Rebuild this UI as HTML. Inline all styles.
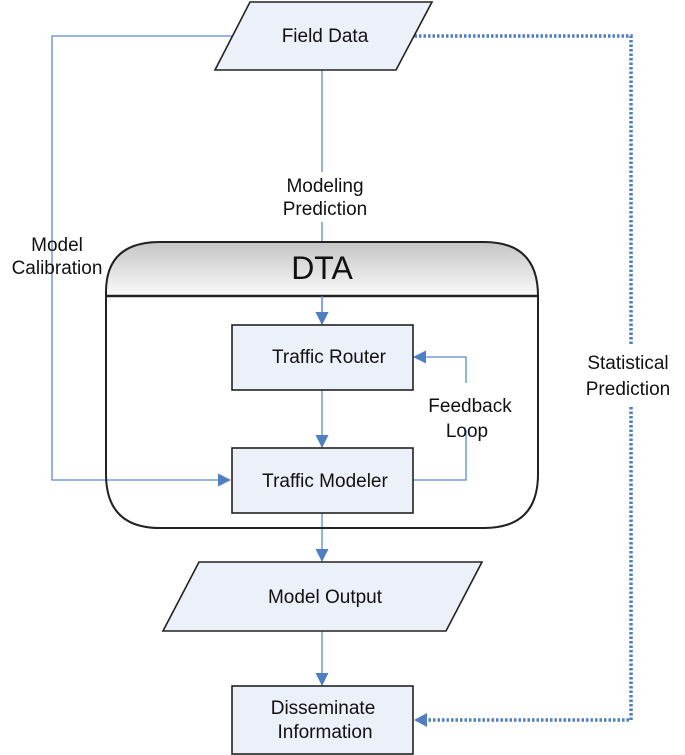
<!DOCTYPE html>
<html><head><style>body{margin:0;background:#fff}svg{display:block}text{font-family:"Liberation Sans",sans-serif;fill:#111}</style></head>
<body>
<svg width="685" height="755" viewBox="0 0 685 755">
<defs>
<linearGradient id="g" x1="0" y1="0" x2="0" y2="1"><stop offset="0" stop-color="#c4c5c4"/><stop offset="1" stop-color="#fafafa"/></linearGradient>
<marker id="a" markerWidth="13" markerHeight="13" refX="12" refY="6.5" orient="auto" markerUnits="userSpaceOnUse"><path d="M0,0 L13,6.5 L0,13 Z" fill="#4f7fc3"/></marker>
</defs>
<g stroke="#5b8bd0" stroke-width="1.3" fill="none">
<path d="M232,36 H52 V480 H230" marker-end="url(#a)"/>
<path d="M322,70 V172 M322,222 V324" marker-end="url(#a)"/>
<path d="M322,390 V447" marker-end="url(#a)"/>
<path d="M413,480 H466 V430 M466,383 V357 H414" marker-end="url(#a)"/>
<path d="M322,513 V561" marker-end="url(#a)"/>
<path d="M322,631 V685" marker-end="url(#a)"/>
</g>
<g stroke="#4f7fc3" stroke-width="3.5" stroke-dasharray="2.5 2" fill="none">
<path d="M410,36 H631 V345 M631,407 V720 H425"/>
</g>
<path d="M414,720 l13,-7 v14 z" fill="#4f7fc3"/>
<path d="M106,296 V292 Q106,242 160,242 H484 Q538,242 538,296 Z" fill="url(#g)"/>
<path d="M106,296 V474 Q106,528 160,528 H484 Q538,528 538,474 V296 M106,296 V292 Q106,242 160,242 H484 Q538,242 538,296 Z" fill="none" stroke="#222" stroke-width="2"/>
<line x1="106" y1="296" x2="538" y2="296" stroke="#222" stroke-width="2.5"/>
<path d="M322,296 V324" stroke="#5b8bd0" stroke-width="1.3" marker-end="url(#a)"/>
<text x="322" y="279" font-size="32" text-anchor="middle">DTA</text>
<g fill="#ecf0f9" stroke="#222" stroke-width="1.6">
<polygon points="250,2 432,2 396,70 215,70"/>
<rect x="232" y="325" width="181" height="65"/>
<rect x="232" y="448" width="181" height="65"/>
<polygon points="199,562 482,562 446,631 163,631"/>
<rect x="232" y="686" width="181" height="68"/>
</g>
<g font-size="19" text-anchor="middle">
<text x="325" y="42">Field Data</text>
<text x="325" y="192">Modeling</text>
<text x="325" y="215">Prediction</text>
<text x="57" y="251">Model</text>
<text x="57" y="274">Calibration</text>
<text x="628" y="369">Statistical</text>
<text x="628" y="395">Prediction</text>
<text x="329" y="363">Traffic Router</text>
<text x="325" y="487">Traffic Modeler</text>
<text x="470" y="412">Feedback</text>
<text x="467" y="437">Loop</text>
<text x="325" y="603">Model Output</text>
<text x="323" y="714">Disseminate</text>
<text x="325" y="738">Information</text>
</g>
</svg>
</body></html>
